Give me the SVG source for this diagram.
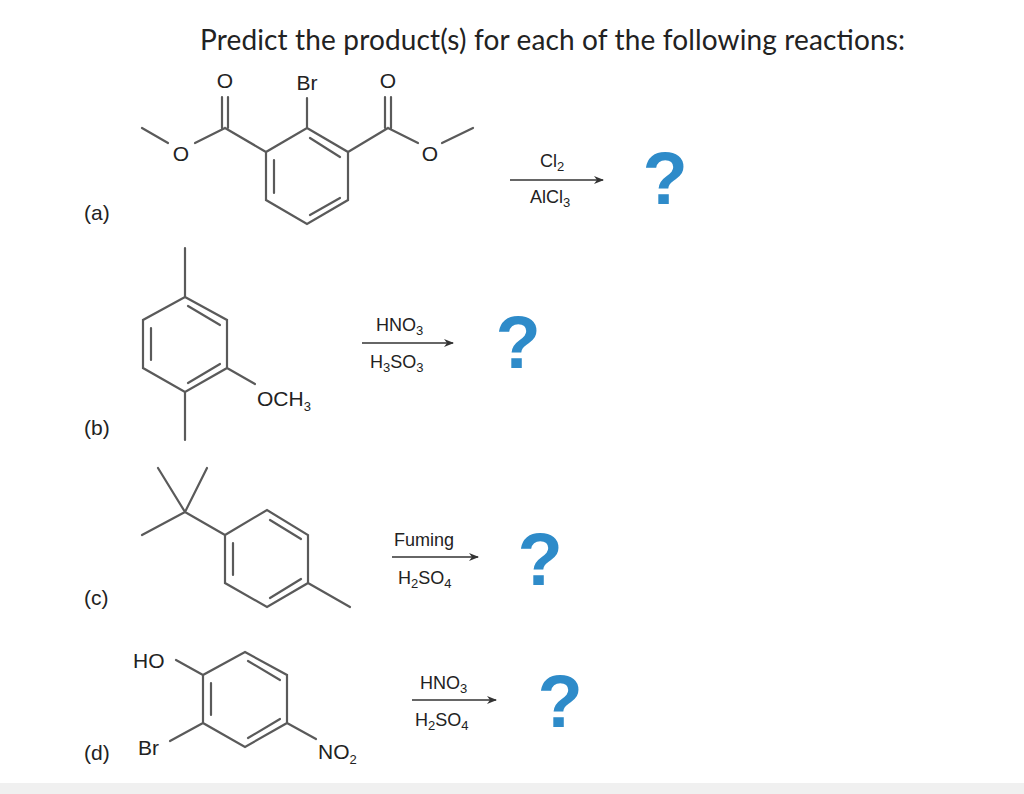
<svg xmlns="http://www.w3.org/2000/svg" width="1024" height="794" viewBox="0 0 1024 794">
<style>
.b{stroke:#5a5a5a;stroke-width:2.2;fill:none;stroke-linecap:round}
.t{font-family:"Liberation Sans",Arial,sans-serif;font-size:21px;fill:#222}
.r{font-family:"Liberation Sans",Arial,sans-serif;font-size:18px;fill:#222}
.q{font-family:"Liberation Sans",Arial,sans-serif;font-size:74px;font-weight:bold;fill:#2e8bc9}
.s{font-size:13px}
</style>
<defs><marker id="ah" markerWidth="10" markerHeight="8" refX="9" refY="4" orient="auto" markerUnits="userSpaceOnUse"><path d="M0,0 L10,4 L0,8 L3,4 Z" fill="#333"/></marker></defs>
<rect width="1024" height="794" fill="#fff"/>
<rect y="783" width="1024" height="11" fill="#f0f0f0"/>
<text x="200" y="50" font-family="Lato,'Open Sans',sans-serif" font-size="28" fill="#222" textLength="705">Predict the product(s) for each of the following reactions:</text>
<g id="molA">
<path class="b" d="M307,128 L348,152 L348,200 L307,224 L266,200 L266,152 Z M274,160 L274,193 M310,138 L340,157 M310,215 L340,198 M307,128 L307,98 M266,152 L225,128 M222,128 L222,97 M228,128 L228,97 M225,128 L195,143 M168,143 L142,128 M348,152 L388,128 M385,128 L385,97 M391,128 L391,97 M388,128 L418,143 M442,143 L473,128"/>
<text class="t" x="307" y="90" text-anchor="middle">Br</text>
<text class="t" x="225" y="88" text-anchor="middle">O</text>
<text class="t" x="388" y="88" text-anchor="middle">O</text>
<text class="t" x="181" y="161" text-anchor="middle">O</text>
<text class="t" x="430" y="161" text-anchor="middle">O</text>
</g>
<g id="molB">
<path class="b" d="M185,297 L227,320 L227,368 L185,392 L143,368 L143,320 Z M151,328 L151,360 M188,306 L220,325 M188,383 L220,364 M185,297 L185,248 M185,392 L185,440 M227,368 L255,384"/>
<text class="t" x="257" y="406">OCH<tspan class="s" dy="5">3</tspan></text>
</g>
<g id="molC">
<path class="b" d="M225,535 L267,510 L308,535 L308,583 L267,607 L225,583 Z M233,543 L233,575 M270,520 L301,539 M270,598 L301,579 M225,535 L185,512 M185,512 L158,468 M185,512 L207,468 M185,512 L142,535 M308,583 L350,607"/>
</g>
<g id="molD">
<path class="b" d="M245,652 L287,675 L287,723 L245,747 L203,723 L203,675 Z M211,683 L211,715 M248,661 L280,680 M248,738 L280,719 M203,675 L176,660 M203,723 L170,741 M287,723 L316,739"/>
<text class="t" x="133" y="668">HO</text>
<text class="t" x="138" y="755">Br</text>
<text class="t" x="318" y="759">NO<tspan class="s" dy="5">2</tspan></text>
</g>
<g id="labels">
<text class="t" x="84" y="220">(a)</text>
<text class="t" x="84" y="435">(b)</text>
<text class="t" x="84" y="605">(c)</text>
<text class="t" x="84" y="760">(d)</text>
</g>
<g id="connectors" stroke="#333" stroke-width="1.5">
<line x1="510" y1="180" x2="603" y2="180" marker-end="url(#ah)"/>
<line x1="362" y1="343" x2="453" y2="343" marker-end="url(#ah)"/>
<line x1="392" y1="557" x2="478" y2="557" marker-end="url(#ah)"/>
<line x1="412" y1="700" x2="496" y2="700" marker-end="url(#ah)"/>
</g>
<g id="reagents">
<text class="r" x="540" y="167">Cl<tspan class="s" dy="4">2</tspan></text>
<text class="r" x="530" y="203">AlCl<tspan class="s" dy="4">3</tspan></text>
<text class="r" x="376" y="331">HNO<tspan class="s" dy="4">3</tspan></text>
<text class="r" x="370" y="368">H<tspan class="s" dy="4">3</tspan><tspan dy="-4">SO</tspan><tspan class="s" dy="4">3</tspan></text>
<text class="r" x="394" y="546">Fuming</text>
<text class="r" x="398" y="584">H<tspan class="s" dy="4">2</tspan><tspan dy="-4">SO</tspan><tspan class="s" dy="4">4</tspan></text>
<text class="r" x="420" y="689">HNO<tspan class="s" dy="4">3</tspan></text>
<text class="r" x="415" y="726">H<tspan class="s" dy="4">2</tspan><tspan dy="-4">SO</tspan><tspan class="s" dy="4">4</tspan></text>
</g>
<g id="answers">
<text class="q" x="665" y="204" text-anchor="middle">?</text>
<text class="q" x="518" y="368" text-anchor="middle">?</text>
<text class="q" x="540" y="585" text-anchor="middle">?</text>
<text class="q" x="560" y="727" text-anchor="middle">?</text>
</g>
</svg>
